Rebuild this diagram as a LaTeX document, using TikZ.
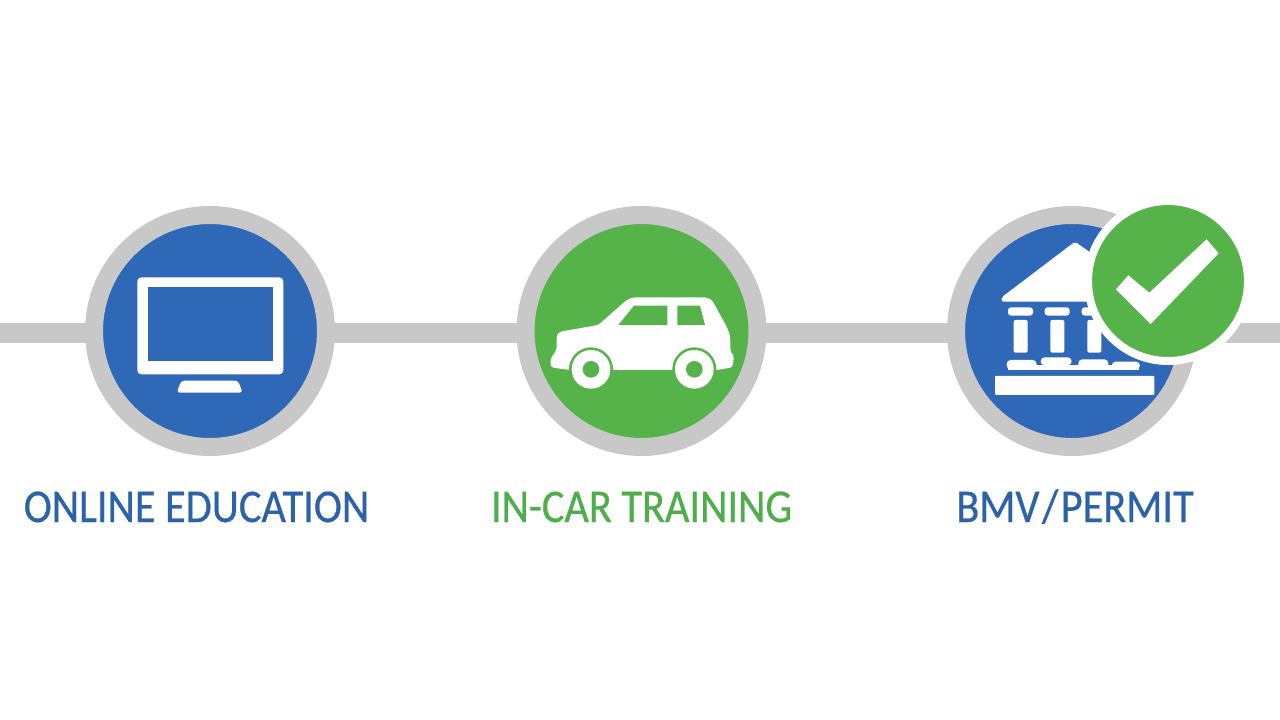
\documentclass[tikz,border=0pt]{standalone}
\usepackage{fontspec}
\setmainfont{Carlito}
\newfontfamily\labelfont[FakeStretch=0.9,FakeBold=0.5]{Carlito}
\usetikzlibrary{backgrounds}
\definecolor{ringgray}{HTML}{C8C8C8}
\definecolor{iconblue}{HTML}{2F68B6}
\definecolor{icongreen}{HTML}{56B34A}
\definecolor{textblue}{HTML}{2C62A6}
\definecolor{textgreen}{HTML}{4DAE4A}
\tikzset{
  stepdisc/.style={circle,draw=ringgray,line width=18pt,minimum size=232pt,inner sep=0pt},
  track/.style={draw=ringgray,line width=20pt},
  steplabel/.style={anchor=base,inner sep=0pt,font=\labelfont\fontsize{47}{47}\selectfont},
  icon/.style={fill=white,draw=none},
  zoomA/.style={x=0.3333pt,y=-0.3333pt},
}
\begin{document}
\begin{tikzpicture}[x=1pt,y=-1pt]
\useasboundingbox (0,0) rectangle (1280,720);
\node[stepdisc,fill=iconblue] (edu) at (210,331) {};
\node[stepdisc,fill=icongreen] (car) at (641.5,331) {};
\node[stepdisc,fill=iconblue] (bmv) at (1072,331) {};
\coordinate (leftend) at (0,333);
\coordinate (rightend) at (1280,333);
\begin{scope}[on background layer]
\fill[white] (0,0) rectangle (1280,720);
\draw[track] (leftend) -- (edu.center |- leftend) -- (car.center |- leftend) -- (bmv.center |- leftend) -- (rightend);
\end{scope}
% monitor
\begin{scope}[shift={(80,200)},zoomA]
\fill[icon,rounded corners=4pt] (172,232) rectangle (610,523);
\fill[iconblue] (204,262) rectangle (580,482);
\fill[icon,rounded corners=3pt] (304,542) -- (474,542) -- (488,578) -- (290,578) -- cycle;
\end{scope}
% car
\begin{scope}[shift={(510,270)},zoomA]
\fill[icon,rounded corners=3pt] (122,292) -- (122,265) -- (140,240) -- (140,195) -- (150,185) -- (265,165) -- (350,90) -- (370,82) -- (590,82) -- (606,90) -- (650,170) -- (660,195) -- (662,250) -- (672,255) -- (668,292) -- (620,300) -- (180,300) -- cycle;
\fill[icongreen] (325,165) -- (372,107) -- (472,107) -- (472,165) -- cycle;
\fill[icongreen] (502,107) -- (570,107) -- (585,165) -- (502,165) -- cycle;
\foreach \wx in {243,553}{
  \fill[icongreen] (\wx,298) circle[radius=66];
  \fill[white] (\wx,298) circle[radius=58];
  \fill[icongreen] (\wx,298) circle[radius=25];
}
\end{scope}
% bank
\begin{scope}[shift={(940,200)},zoomA]
\fill[icon,rounded corners=2pt] (185,305) -- (185,292) -- (405,125) -- (640,292) -- (640,305) -- cycle;
\foreach \cx in {241,351,462}{
  \fill[icon,rounded corners=3pt] (\cx-37,322) rectangle (\cx+38,347);
  \fill[icon,rounded corners=2pt] (\cx-20,360) rectangle (\cx+22,458);
}
\fill[icon,rounded corners=4pt] (200,480) rectangle (290,508);
\fill[icon,rounded corners=4pt] (302,472) rectangle (395,496);
\fill[icon,rounded corners=4pt] (415,478) rectangle (505,508);
\fill[icon,rounded corners=4pt] (515,485) rectangle (600,508);
\fill[icon] (205,496) rectangle (596,510);
\fill[icon,rounded corners=1pt] (165,528) rectangle (643,585);
\end{scope}
% badge
\node[circle,fill=icongreen,draw=white,line width=8pt,minimum size=160pt,inner sep=0pt] (badge) at (1168,281) {};
\begin{scope}[shift={(940,200)},zoomA]
\fill[icon] (528,268) -- (565,226) -- (628,278) -- (800,118) -- (836,160) -- (632,372) -- cycle;
\end{scope}
% labels
\node[steplabel,text=textblue] (lab1) at (196.5,522) {ONLINE EDUCATION};
\node[steplabel,text=textgreen] (lab2) at (641.5,522) {IN-CAR TRAINING};
\node[steplabel,text=textblue] (lab3) at (1075,522) {BMV\kern2.5pt/\kern2.5pt PERMIT};
\end{tikzpicture}
\end{document}
